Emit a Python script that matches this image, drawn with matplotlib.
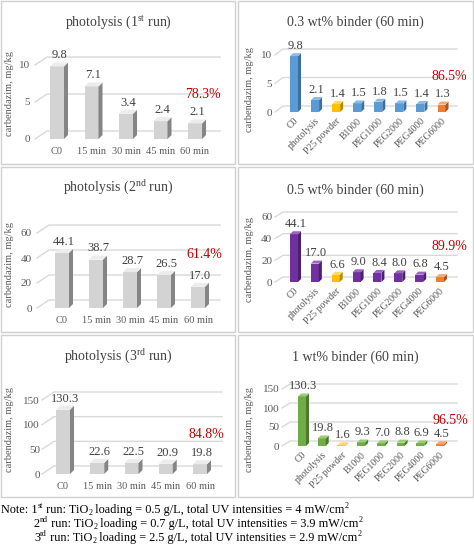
import matplotlib
matplotlib.use("Agg")
import matplotlib.pyplot as plt  # noqa: E402
from matplotlib.patches import Polygon, Rectangle  # noqa: E402

W, H = 474, 548

# --- data ---
run_labels = ["C0", "15 min", "30 min", "45 min", "60 min"]
run1 = [9.8, 7.1, 3.4, 2.4, 2.1]
run2 = [44.1, 38.7, 28.7, 26.5, 17.0]
run3 = [130.3, 22.6, 22.5, 20.9, 19.8]

binder_labels = ["C0", "photolysis", "P25 powder", "B1000",
                 "PEG1000", "PEG2000", "PEG4000", "PEG6000"]
binder_03 = [9.8, 2.1, 1.4, 1.5, 1.8, 1.5, 1.4, 1.3]
binder_05 = [44.1, 17.0, 6.6, 9.0, 8.4, 8.0, 6.8, 4.5]
binder_1 = [130.3, 19.8, 1.6, 9.3, 7.0, 8.8, 6.9, 4.5]

removal = ["78.3%", "61.4%", "84.8%", "86.5%", "89.9%", "96.5%"]

ticks_10 = [0, 5, 10]
ticks_60 = [0, 20, 40, 60]
ticks_150 = [0, 50, 100, 150]

plt.rcParams["font.family"] = ["Liberation Serif", "DejaVu Serif"]
plt.rcParams["mathtext.fontset"] = "custom"
plt.rcParams["mathtext.rm"] = "Liberation Serif"
plt.rcParams["mathtext.it"] = "Liberation Serif:italic"
plt.rcParams["mathtext.bf"] = "Liberation Serif:bold"

GRID = "#d9d9d9"
TXT = "#404040"
TICK = "#595959"
RED = "#c00000"

# (front, side, top) shading per colour
GRAY = ("#d3d3d3", "#858585", "#ececec")
BLUE = ("#5b9bd5", "#3c6f9e", "#8dbbe6")
YELLOW = ("#ffc000", "#b88a00", "#ffd966")
ORANGE = ("#ed7d31", "#a8561f", "#f4a772")
PURPLE = ("#7030a0", "#4a1f6b", "#9a63c4")
GREEN = ("#70ad47", "#4b7a2e", "#9acb78")


def fx(x):
    return x / W


def fy(y):
    return 1 - y / H


def panel(fig, vals, labels, shades, yticks, geo, rotate):
    c0, cn, y0, yt, axl, axr, axt = geo["pos"]
    bw_px, dep_x, dep_y = geo["bar"]
    g_x, g_y = geo["grid"]
    n = len(vals)
    s = (cn - c0) / (n - 1)
    ppu = (y0 - yt) / yticks[-1]

    ax = fig.add_axes([fx(axl), fy(y0), (axr - axl) / W, (y0 - axt) / H])
    x0 = -(c0 - axl) / s
    x1 = n - 1 + (axr - cn) / s
    ax.set_xlim(x0, x1)
    ax.set_ylim(0, (y0 - axt) / ppu)
    for sp in ax.spines.values():
        sp.set_visible(False)

    # back wall gridlines with the slanted floor edge on the left
    gdx, gdy = g_x / s, g_y / ppu
    for t in yticks:
        ax.plot([x0, x0 + gdx, x1], [t, t + gdy, t + gdy], color=GRID,
                lw=1, zorder=1, clip_on=False)

    bw = bw_px / s
    ddx, ddy = dep_x / s, dep_y / ppu
    xs = list(range(n))
    fronts = [shades[i][0] for i in xs]
    ax.bar(xs, vals, width=bw, color=fronts, edgecolor="none",
           zorder=3, clip_on=False)
    for i, v in zip(xs, vals):
        front, side, top = shades[i]
        r = i + bw / 2
        l = i - bw / 2
        ax.add_patch(Polygon([(r, 0), (r + ddx, ddy), (r + ddx, v + ddy), (r, v)],
                             closed=True, fc=side, ec="none", zorder=3,
                             clip_on=False))
        ax.add_patch(Polygon([(l, v), (r, v), (r + ddx, v + ddy), (l + ddx, v + ddy)],
                             closed=True, fc=top, ec="none", zorder=3,
                             clip_on=False))
        ax.annotate(f"{v:.1f}", (i + ddx / 2, v + ddy), xytext=(0, 3),
                    textcoords="offset points", ha="center", va="baseline",
                    fontsize=9, color=TXT, zorder=5)

    ax.set_yticks(yticks)
    ax.set_yticklabels([str(t) for t in yticks])
    ax.tick_params(axis="y", length=0, pad=geo["ypad"], labelsize=8,
                   labelcolor=TICK)
    ax.set_xticks(xs)
    ax.set_xticklabels(labels)
    ax.tick_params(axis="x", length=0, pad=geo["xpad"], labelsize=7.5,
                   labelcolor=TICK)
    if rotate:
        plt.setp(ax.get_xticklabels(), rotation=45, ha="right",
                 rotation_mode="anchor", fontsize=7)
    return ax


def rich_line(fig, x, base, parts, size=8.8, small=5.8):
    """Write a line made of normal / superscript / subscript pieces."""
    renderer = fig.canvas.get_renderer()
    for txt, kind in parts:
        if kind == "n":
            y, fs = base, size
        elif kind == "sup":
            y, fs = base - 4.5, small
        else:
            y, fs = base + 2, small
        t = fig.text(fx(x), fy(y), txt, ha="left", va="baseline",
                     fontsize=fs, color="black")
        x += t.get_window_extent(renderer=renderer).width


fig = plt.figure(figsize=(W / 100, H / 100), dpi=100)

# panel frames
for bx0, bx1 in [(1, 235), (238, 473)]:
    for by0, by1 in [(1, 164), (167, 332), (335, 497)]:
        fig.add_artist(Rectangle((fx(bx0), fy(by1)), (bx1 - bx0) / W,
                                 (by1 - by0) / H, transform=fig.transFigure,
                                 fill=False, ec="#d0d0d0", lw=1))

left_bar = (14, 4, 4)
right_bar = (8, 3, 3)

panels = [
    (run1, run_labels, [GRAY] * 5, ticks_10,
     dict(pos=(57, 195, 139, 65, 35, 220, 55), bar=left_bar, grid=(12, 8),
          ypad=3.6, xpad=6), False,
     r"photolysis (1$^{\mathrm{st}}$ run)", (118, 22), (10, 93), (203, 94)),
    (run2, run_labels, [GRAY] * 5, ticks_60,
     dict(pos=(62, 198, 308, 233, 37, 220, 222), bar=left_bar, grid=(12, 8),
          ypad=3.6, xpad=6), False,
     r"photolysis (2$^{\mathrm{nd}}$ run)", (118, 188), (10, 265), (204, 255)),
    (run3, run_labels, [GRAY] * 5, ticks_150,
     dict(pos=(63, 200, 474, 400, 42, 222, 388), bar=left_bar, grid=(12, 8),
          ypad=1.5, xpad=6), False,
     r"photolysis (3$^{\mathrm{rd}}$ run)", (118, 357), (10, 430), (206, 434)),
    (binder_03, binder_labels, [BLUE, BLUE, YELLOW] + [BLUE] * 4 + [ORANGE],
     ticks_10,
     dict(pos=(294, 441.5, 112, 55, 275, 457, 46), bar=right_bar, grid=(8, 6),
          ypad=2, xpad=3), True,
     "0.3 wt% binder (60 min)", (355, 22), (249, 90), (449, 77)),
    (binder_05, binder_labels, [PURPLE, PURPLE, YELLOW] + [PURPLE] * 4 + [ORANGE],
     ticks_60,
     dict(pos=(294, 440, 282, 217, 275, 457, 208), bar=right_bar, grid=(8, 5),
          ypad=2, xpad=3), True,
     "0.5 wt% binder (60 min)", (355, 190), (250, 260), (449, 247)),
    (binder_1, binder_labels, [GREEN, GREEN, YELLOW] + [GREEN] * 4 + [ORANGE],
     ticks_150,
     dict(pos=(302, 440, 446, 389, 282, 457, 380), bar=right_bar, grid=(8, 5),
          ypad=2, xpad=3), True,
     "1 wt% binder (60 min)", (355, 357), (249, 430), (450, 420)),
]

for k, (vals, labels, shades, yticks, geo, rotate, title, t_xy, yl_xy, p_xy) \
        in enumerate(panels):
    panel(fig, vals, labels, shades, yticks, geo, rotate)
    fig.text(fx(t_xy[0]), fy(t_xy[1]), title, ha="center", va="center",
             fontsize=10, color=TXT)
    fig.text(fx(yl_xy[0]), fy(yl_xy[1]), "carbendazim, mg/kg", rotation=90,
             ha="center", va="center", fontsize=7.5, color=TICK)
    fig.text(fx(p_xy[0]), fy(p_xy[1]), removal[k], ha="center", va="center",
             fontsize=10, color=RED)

note_rows = [
    (1, 513, "Note: 1", "st", "0.5", "4"),
    (34, 527, "2", "nd", "0.7", "3.9"),
    (34, 541, "3", "rd", "2.5", "2.9"),
]
for nx, nb, lead, suf, load, uv in note_rows:
    rich_line(fig, nx, nb, [
        (lead, "n"), (suf, "sup"), (" run: TiO", "n"), ("2", "sub"),
        (f" loading = {load} g/L, total UV intensities = {uv} mW/cm", "n"),
        ("2", "sup"),
    ])

fig.savefig("out.png", dpi=100)
